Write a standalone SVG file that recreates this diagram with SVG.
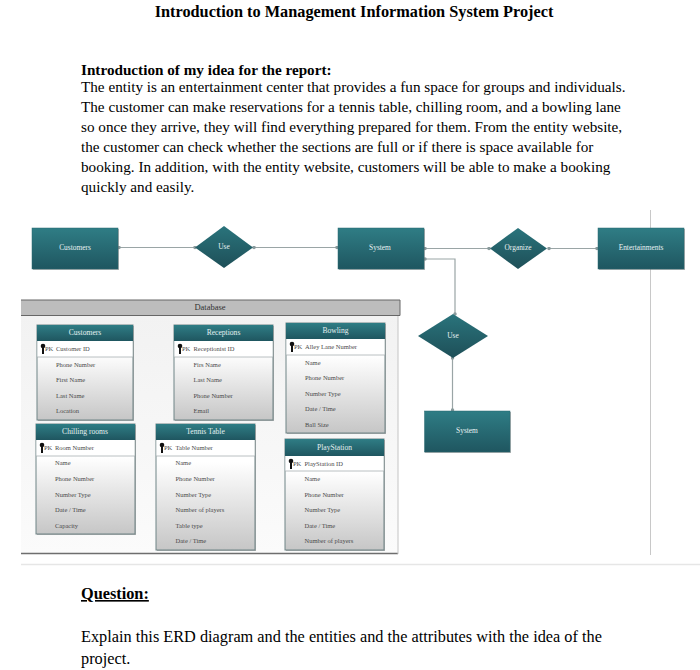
<svg xmlns="http://www.w3.org/2000/svg" width="700" height="670" viewBox="0 0 700 670">
<defs>
<linearGradient id="teal" x1="0" y1="0" x2="0" y2="1"><stop offset="0" stop-color="#2f7d85"/><stop offset="1" stop-color="#1f5660"/></linearGradient>
<linearGradient id="dia" x1="0" y1="0" x2="0" y2="1"><stop offset="0" stop-color="#2a747c"/><stop offset="1" stop-color="#1e4f58"/></linearGradient>
<linearGradient id="body" x1="0" y1="0" x2="0" y2="1"><stop offset="0" stop-color="#ffffff"/><stop offset=".3" stop-color="#ffffff"/><stop offset="1" stop-color="#c6c6c6"/></linearGradient>
<linearGradient id="bg" x1="0" y1="0" x2="0" y2="1"><stop offset="0" stop-color="#f2f2f2"/><stop offset="1" stop-color="#fbfbfb"/></linearGradient>
<marker id="dot" viewBox="0 0 6 6" refX="3" refY="3" markerWidth="4" markerHeight="4" markerUnits="userSpaceOnUse"><circle cx="3" cy="3" r="2.6" fill="#8a9a9c"/></marker>
<g id="key"><circle cx="0" cy="-2" r="2.300" fill="#111"/><rect x="-1" y="-1" width="2" height="7" fill="#111"/></g>
</defs>
<style>
.doc{font-family:"Liberation Serif","Times New Roman",serif;font-size:15.2px;fill:#000}
.big{font-size:16.3px}
.b{font-weight:bold}
.ent{fill:url(#teal);stroke:#2a6a72;stroke-width:.5}
.dia{fill:url(#dia)}
.wt{font-family:"Liberation Serif",serif;font-size:7.4px;fill:#e8f2f2;text-anchor:middle}
.hd{font-family:"Liberation Serif",serif;font-size:7.6px;fill:#e4f0f0;text-anchor:middle}
.row{font-family:"Liberation Serif",serif;font-size:6.500px;fill:#4a4a4a}
.tb{fill:url(#body);stroke:#6f8486;stroke-width:1}
.th{fill:url(#teal)}
.pk{fill:#fff}
.sep{stroke:#a8b0b2;stroke-width:.8}
.conn{fill:none;stroke:#9aa5a6;stroke-width:1.200;marker-start:url(#dot);marker-end:url(#dot)}
.shd{fill:#777;opacity:.55}
</style>

<g id="document-top">
<text class="doc big b" x="354" y="17" text-anchor="middle">Introduction to Management Information System Project</text>
<text class="doc b" x="81" y="75">Introduction of my idea for the report:</text>
<text class="doc" x="81" y="92">The entity is an entertainment center that provides a fun space for groups and individuals.</text>
<text class="doc" x="81" y="112">The customer can make reservations for a tennis table, chilling room, and a bowling lane</text>
<text class="doc" x="81" y="132">so once they arrive, they will find everything prepared for them. From the entity website,</text>
<text class="doc" x="81" y="152">the customer can check whether the sections are full or if there is space available for</text>
<text class="doc" x="81" y="172">booking. In addition, with the entity website, customers will be able to make a booking</text>
<text class="doc" x="81" y="192">quickly and easily.</text>
</g>

<path d="M650.500 210V555" stroke="#c8c8c8" stroke-width="1" fill="none"/>
<path d="M21 564.500H700" stroke="#e6e6e6" stroke-width="1.500" fill="none"/>

<g id="database">
<rect x="21" y="315" width="377" height="239" fill="url(#bg)"/>
<path d="M21 553.500H398" stroke="#6e6e6e" stroke-width="1.500"/>
<path d="M398 315V554" stroke="#c4c4c4" stroke-width="1"/>
<rect x="21" y="300" width="379" height="15" fill="#bdbdbd"/>
<path d="M21 300H400V315.500H21" fill="none" stroke="#666" stroke-width="1"/>
<text x="210" y="310" font-family="Liberation Serif,serif" font-size="8.500px" fill="#333" text-anchor="middle">Database</text>
</g>

<g id="connectors">
<path class="conn" d="M119 247.500H195"/>
<path class="conn" d="M254 247.500H337"/>
<path class="conn" d="M425 248.500H489"/>
<path class="conn" d="M549 248.500H597"/>
<path class="conn" d="M425 259H455V314"/>
<path class="conn" d="M452.500 358V410"/>
</g>

<g id="e-customers"><rect class="shd" x="33" y="229" width="86" height="41"/><rect class="ent" x="32" y="228" width="86" height="41"/><text class="wt" x="75" y="250">Customers</text></g>
<g id="r-use1"><path class="dia" d="M224 226L253 247.500L224 268L195 247.500Z"/><text class="wt" x="224" y="249">Use</text></g>
<g id="e-system1"><rect class="shd" x="339" y="229" width="86" height="41"/><rect class="ent" x="338" y="228" width="86" height="41"/><text class="wt" x="380" y="250">System</text></g>
<g id="r-organize"><path class="dia" d="M518 228L547 248.500L518 269L490 248.500Z"/><text class="wt" x="518" y="250">Organize</text></g>
<g id="e-entertainments"><rect class="shd" x="599" y="229" width="86" height="41"/><rect class="ent" x="598" y="228" width="86" height="41"/><text class="wt" x="641" y="250">Entertainments</text></g>
<g id="r-use2"><path class="dia" d="M453 314L488 336L453 358L418 336Z"/><text class="wt" x="453" y="338">Use</text></g>
<g id="e-system2"><rect class="shd" x="425" y="412" width="86" height="41"/><rect class="ent" x="424.500" y="411" width="85.500" height="41"/><text class="wt" x="467" y="433">System</text></g>

<g id="t-customers">
<rect class="shd" x="38" y="326" width="96" height="95"/><rect class="tb" x="37" y="325" width="96" height="95"/><rect class="th" x="37" y="325" width="96" height="16"/><rect class="pk" x="37.500" y="341" width="95" height="16"/><path class="sep" d="M37 357H133"/>
<text class="hd" x="85" y="335">Customers</text>
<use href="#key" x="43" y="348"/><text class="row" x="45" y="351">PK</text><text class="row" x="56" y="351">Customer ID</text>
<text class="row" x="56" y="367">Phone Number</text><text class="row" x="56" y="382">First Name</text><text class="row" x="56" y="398">Last Name</text><text class="row" x="56" y="413">Location</text>
</g>
<g id="t-receptions">
<rect class="shd" x="175" y="326" width="99" height="95"/><rect class="tb" x="174" y="325" width="99" height="95"/><rect class="th" x="174" y="325" width="99" height="16"/><rect class="pk" x="174.500" y="341" width="98" height="16"/><path class="sep" d="M174 357H273"/>
<text class="hd" x="223.500" y="335">Receptions</text>
<use href="#key" x="180" y="348"/><text class="row" x="182" y="351">PK</text><text class="row" x="193.500" y="351">Receptionist ID</text>
<text class="row" x="193.500" y="367">Firs Name</text><text class="row" x="193.500" y="382">Last Name</text><text class="row" x="193.500" y="398">Phone Number</text><text class="row" x="193.500" y="413">Email</text>
</g>
<g id="t-bowling">
<rect class="shd" x="287" y="324" width="99" height="110"/><rect class="tb" x="286" y="323" width="99" height="110"/><rect class="th" x="286" y="323" width="99" height="16"/><rect class="pk" x="286.500" y="339" width="98" height="16"/><path class="sep" d="M286 355H385"/>
<text class="hd" x="335.500" y="333">Bowling</text>
<use href="#key" x="292" y="346"/><text class="row" x="294" y="349">PK</text><text class="row" x="305" y="349">Alley Lane Number</text>
<text class="row" x="305" y="365">Name</text><text class="row" x="305" y="380">Phone Number</text><text class="row" x="305" y="396">Number Type</text><text class="row" x="305" y="411">Date / Time</text><text class="row" x="305" y="427">Ball Size</text>
</g>
<g id="t-chilling">
<rect class="shd" x="37" y="425" width="99" height="110"/><rect class="tb" x="36" y="424" width="99" height="110"/><rect class="th" x="36" y="424" width="99" height="16"/><rect class="pk" x="36.500" y="440" width="98" height="16"/><path class="sep" d="M36 456H135"/>
<text class="hd" x="85" y="434">Chilling rooms</text>
<use href="#key" x="42" y="447"/><text class="row" x="44" y="450">PK</text><text class="row" x="55" y="450">Room Number</text>
<text class="row" x="55" y="465">Name</text><text class="row" x="55" y="481">Phone Number</text><text class="row" x="55" y="497">Number Type</text><text class="row" x="55" y="512">Date / Time</text><text class="row" x="55" y="528">Capacity</text>
</g>
<g id="t-tennis">
<rect class="shd" x="157" y="425" width="99" height="126"/><rect class="tb" x="156" y="424" width="99" height="126"/><rect class="th" x="156" y="424" width="99" height="16"/><rect class="pk" x="156.500" y="440" width="98" height="16"/><path class="sep" d="M156 456H255"/>
<text class="hd" x="205.500" y="434">Tennis Table</text>
<use href="#key" x="162" y="447"/><text class="row" x="164" y="450">PK</text><text class="row" x="175.500" y="450">Table Number</text>
<text class="row" x="175.500" y="465">Name</text><text class="row" x="175.500" y="481">Phone Number</text><text class="row" x="175.500" y="497">Number Type</text><text class="row" x="175.500" y="512">Number of players</text><text class="row" x="175.500" y="528">Table type</text><text class="row" x="175.500" y="543">Date / Time</text>
</g>
<g id="t-playstation">
<rect class="shd" x="286" y="440" width="99" height="111"/><rect class="tb" x="285" y="439" width="99" height="111"/><rect class="th" x="285" y="439" width="99" height="17"/><rect class="pk" x="285.500" y="456" width="98" height="15"/><path class="sep" d="M285 471H384"/>
<text class="hd" x="334.500" y="450">PlayStation</text>
<use href="#key" x="291" y="463"/><text class="row" x="293" y="466">PK</text><text class="row" x="304.500" y="466">PlayStation ID</text>
<text class="row" x="304.500" y="481">Name</text><text class="row" x="304.500" y="497">Phone Number</text><text class="row" x="304.500" y="512">Number Type</text><text class="row" x="304.500" y="528">Date / Time</text><text class="row" x="304.500" y="543">Number of players</text>
</g>

<g id="document-bottom">
<text class="doc big b" x="81" y="599" text-decoration="underline">Question:</text>
<text class="doc big" x="81" y="642">Explain this ERD diagram and the entities and the attributes with the idea of the</text>
<text class="doc big" x="81" y="664">project.</text>
</g>
</svg>
